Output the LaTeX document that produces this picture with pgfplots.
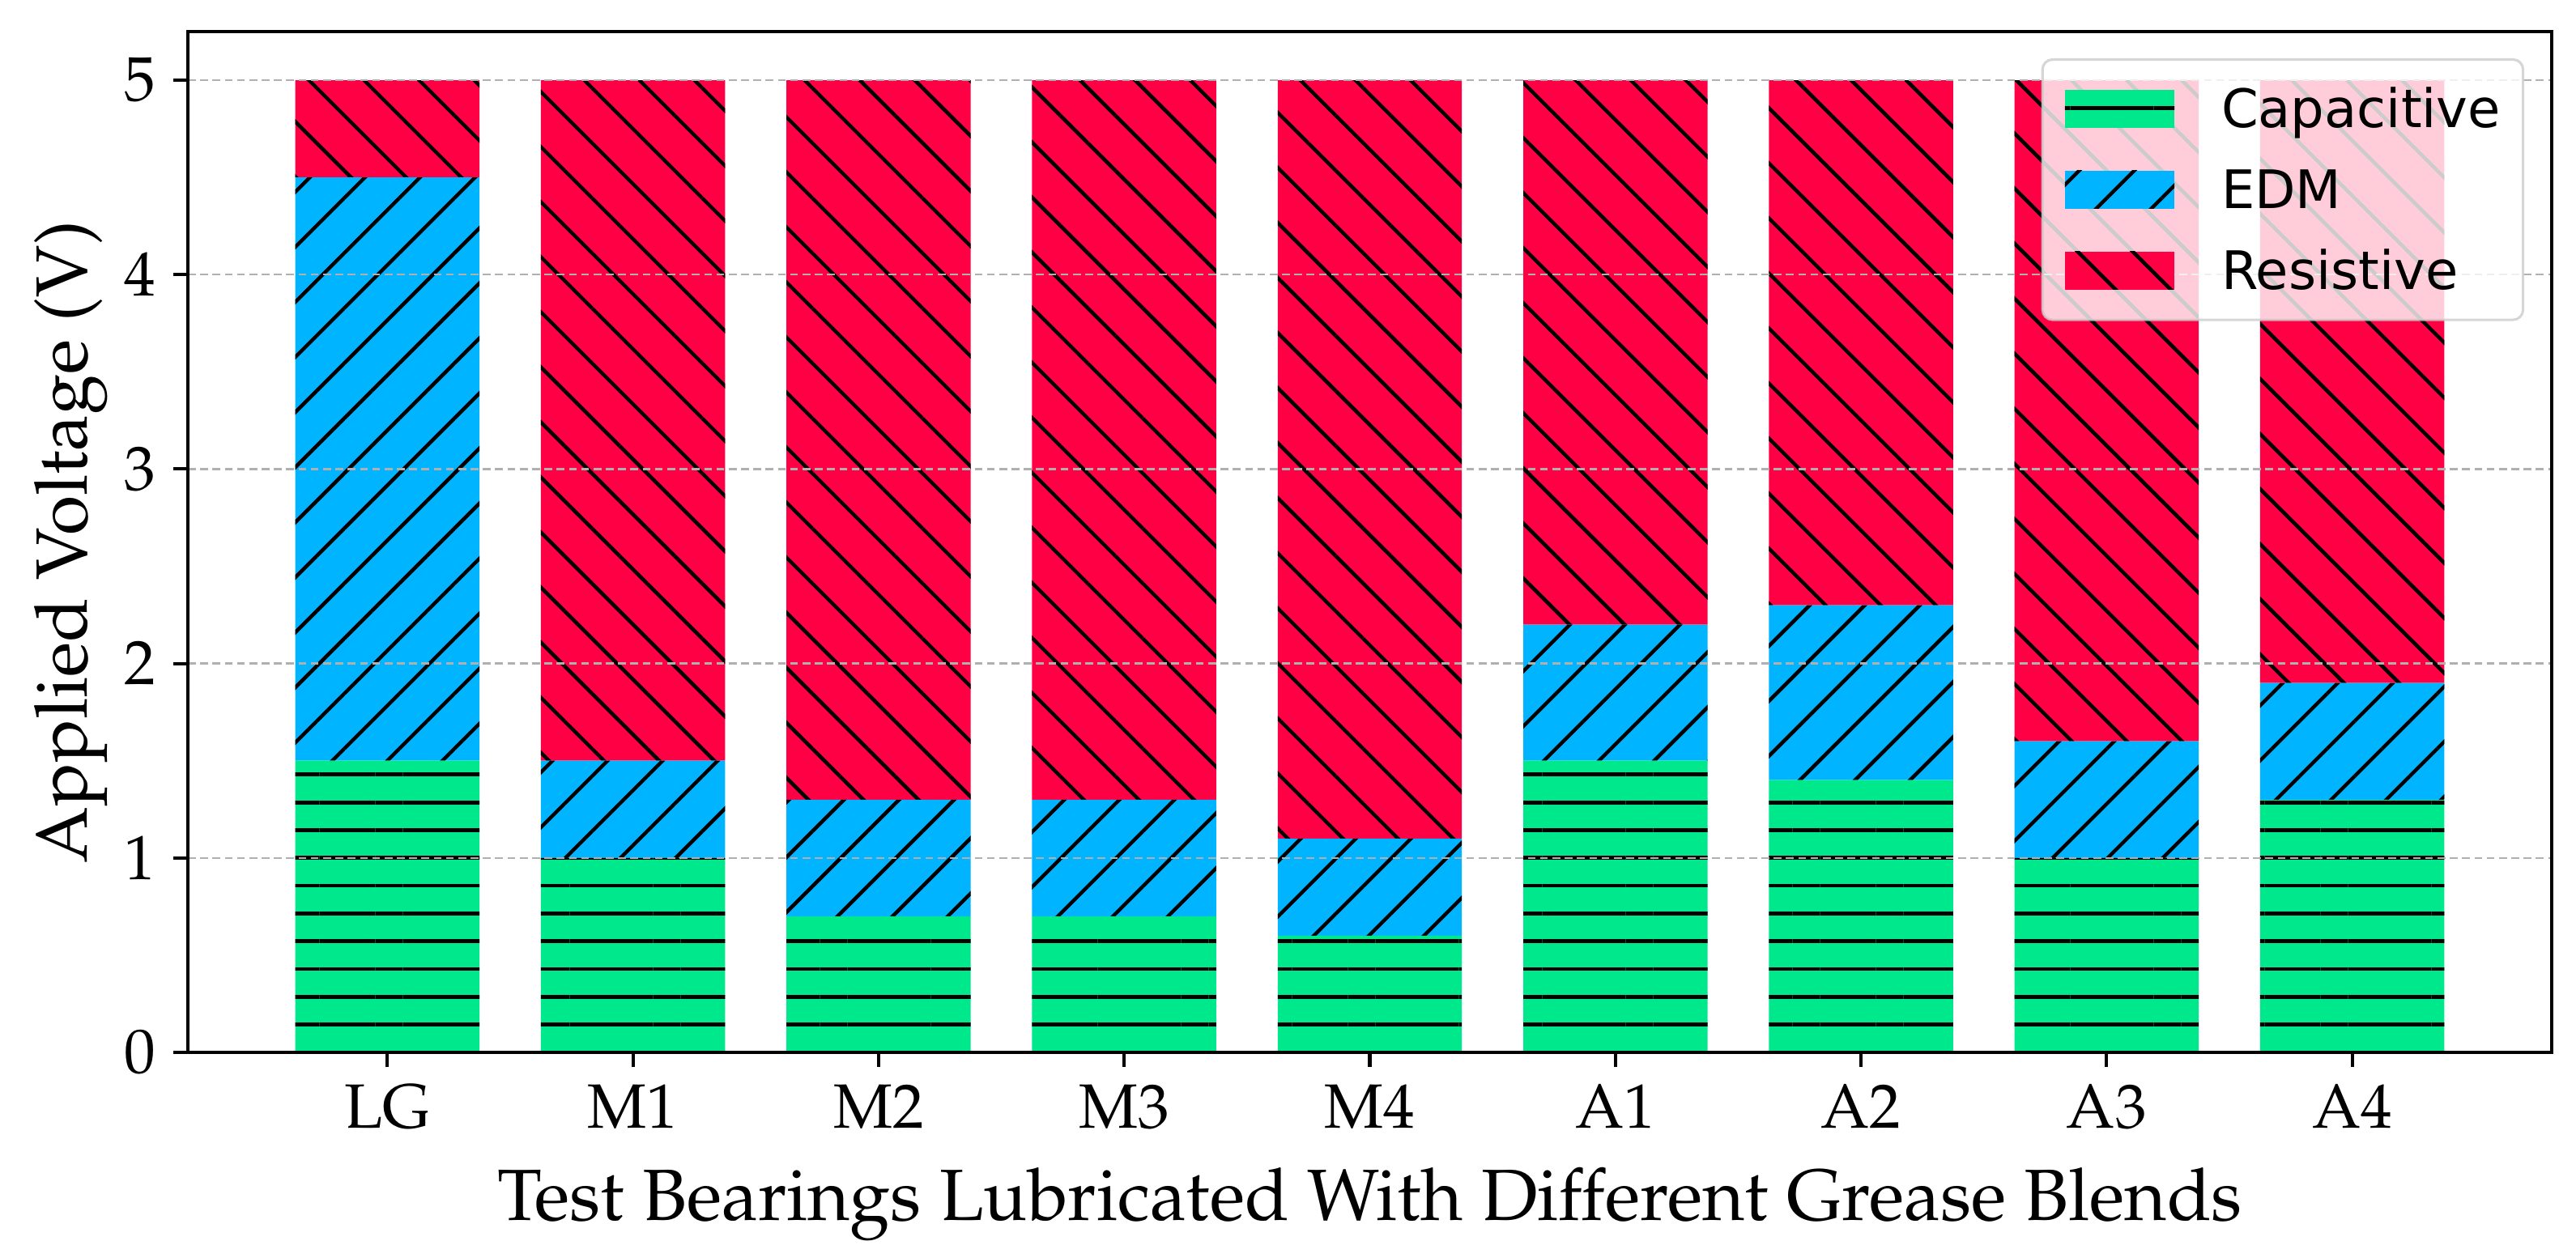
\documentclass[border=0pt]{standalone}
\usepackage{fontspec}
\newfontfamily\legendfont{DejaVu Sans}
\usepackage[T1]{fontenc}
\usepackage{mathpazo}
\usepackage{pgfplots}
\pgfplotsset{compat=1.18}
\usetikzlibrary{patterns.meta}
\definecolor{capgreen}{RGB}{0,232,140}
\definecolor{edmblue}{RGB}{0,180,255}
\definecolor{resred}{RGB}{255,0,68}
\definecolor{gridgray}{RGB}{176,176,176}
\definecolor{legedge}{RGB}{204,204,204}
\begin{document}
\begin{tikzpicture}
\path[use as bounding box] (-33.62pt,-36.81pt) rectangle (427.38pt,188.40pt);
\begin{axis}[
  at={(0,0)}, anchor=south west,
  scale only axis, width=423.03pt, height=182.75pt,
  ybar stacked, bar width=0.75,
  xmin=-0.8125, xmax=8.8125, ymin=0, ymax=5.25,
  enlargelimits=false,
  xtick=data, xticklabels={LG,M1,M2,M3,M4,A1,A2,A3,A4},
  ytick={0,1,2,3,4,5},
  tick pos=left, tick align=outside, major tick length=2.6pt,
  tick style={line width=0.6pt, black},
  axis line style={line width=0.65pt, black},
  ymajorgrids,
  major grid style={gridgray, line width=0.35pt, dash pattern=on 1.4pt off 0.8pt},
  axis on top,
  ticklabel style={font=\fontsize{11.2}{13}\selectfont},
  xticklabel style={anchor=base, yshift=-11pt},
  yticklabel style={anchor=east, inner sep=0pt, xshift=-3pt},
  label style={font=\fontsize{13}{15}\selectfont},
  xlabel={Test Bearings Lubricated With Different Grease Blends},
  ylabel={Applied Voltage (V)},
  xlabel style={at={(axis description cs:0.5,-0.1642)}, anchor=base},
  ylabel style={at={(axis description cs:-0.0428,0.5)}, anchor=base},
  legend style={at={(rel axis cs:1,1)}, anchor=north east, xshift=-4.9pt, yshift=-4.78pt,
    draw=legedge, line width=0.45pt, rounded corners=1.8pt, fill=white,
    fill opacity=0.8, draw opacity=0.8, text opacity=1,
    inner xsep=4pt, inner ysep=5.4pt, row sep=7.7pt, column sep=8.4pt,
    font=\legendfont\fontsize{9.5}{11}\selectfont,
    nodes={inner sep=0pt, text height=6.8pt, text depth=0pt}},
  legend cell align=left,
  legend image code/.code={%
    \begin{scope}[fill opacity=1, draw opacity=1, sharp corners]
    \fill[#1, sharp corners] (0pt,-3.4pt) rectangle (19.6pt,3.4pt);
    \end{scope}},
]
\addplot[fill=capgreen, draw=none,
  postaction={pattern={Lines[angle=0,distance=4.973pt,yshift=2.0pt,line width=0.68pt]}, pattern color=black}]
  coordinates {(0,1.5) (1,1.0) (2,0.7) (3,0.7) (4,0.6) (5,1.5) (6,1.4) (7,1.0) (8,1.3)};
\addlegendentry{Capacitive}
\addplot[fill=edmblue, draw=none,
  postaction={pattern={Lines[angle=45,distance=6.97pt,line width=0.65pt]}, pattern color=black}]
  coordinates {(0,3.0) (1,0.5) (2,0.6) (3,0.6) (4,0.5) (5,0.7) (6,0.9) (7,0.6) (8,0.6)};
\addlegendentry{EDM}
\addplot[fill=resred, draw=none,
  postaction={pattern={Lines[angle=-45,distance=6.97pt,line width=0.65pt]}, pattern color=black}]
  coordinates {(0,0.5) (1,3.5) (2,3.7) (3,3.7) (4,3.9) (5,2.8) (6,2.7) (7,3.4) (8,3.1)};
\addlegendentry{Resistive}
\end{axis}
\end{tikzpicture}
\end{document}
